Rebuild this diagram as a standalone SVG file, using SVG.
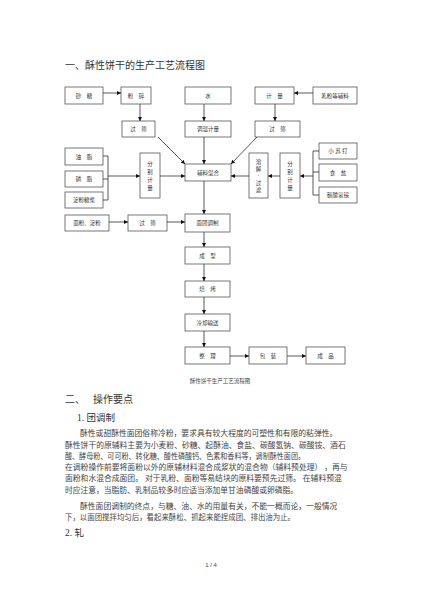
<svg xmlns="http://www.w3.org/2000/svg" width="423" height="600" viewBox="0 0 423 600">
<defs>
<marker id="ah" viewBox="0 0 10 10" refX="10" refY="5" markerWidth="4" markerHeight="4" markerUnits="userSpaceOnUse" orient="auto">
<path d="M0,0 L10,5 L0,10 z" fill="#111"/>
</marker>
<style>
.bx{fill:#fff;stroke:#555;stroke-width:0.8}
.lb{font-family:"Liberation Serif","Noto Sans CJK SC",serif;font-size:5.5px;fill:#333;text-anchor:middle}
.cn{fill:none;stroke:#111;stroke-width:0.7}
.ar{fill:none;stroke:#111;stroke-width:0.7;marker-end:url(#ah)}
.h1{font-family:"Liberation Serif","Noto Sans CJK SC",serif;font-size:10px;fill:#333}
.h2{font-family:"Liberation Serif","Noto Sans CJK SC",serif;font-size:9.5px;fill:#333}
.bd{font-family:"Liberation Serif","Noto Sans CJK SC",serif;font-size:7.8px;fill:#444}
.cap{font-family:"Liberation Serif","Noto Sans CJK SC",serif;font-size:5.5px;fill:#444;text-anchor:middle}
</style>
</defs>
<rect width="423" height="600" fill="#fff"/>
<text class="h1" x="65" y="69">一、酥性饼干的生产工艺流程图</text>

<g id="n_shatang"><rect class="bx" x="65" y="87" width="38" height="17"/><text class="lb" x="84" y="97.5">砂　糖</text></g>
<g id="n_fensui"><rect class="bx" x="121" y="87" width="30" height="17"/><text class="lb" x="136" y="97.5">粉　碎</text></g>
<g id="n_shui"><rect class="bx" x="185" y="87" width="46" height="17"/><text class="lb" x="208" y="97.5">水</text></g>
<g id="n_jiliang"><rect class="bx" x="255" y="87" width="39" height="17"/><text class="lb" x="274.5" y="97.5">计　量</text></g>
<g id="n_rufen"><rect class="bx" x="313" y="87" width="44" height="17"/><text class="lb" x="335" y="97.5">乳粉等辅料</text></g>

<g id="n_guoshai1"><rect class="bx" x="122" y="121" width="33" height="16"/><text class="lb" x="138.5" y="131">过　筛</text></g>
<g id="n_tiaowen"><rect class="bx" x="185" y="121" width="46" height="16"/><text class="lb" x="208" y="131">调温计量</text></g>
<g id="n_guoshai2"><rect class="bx" x="255" y="121" width="45" height="16"/><text class="lb" x="277.5" y="131">过　筛</text></g>

<g id="n_youzhi"><rect class="bx" x="65" y="148" width="38" height="17"/><text class="lb" x="84" y="158.5">油　脂</text></g>
<g id="n_linzhi"><rect class="bx" x="65" y="171" width="38" height="16"/><text class="lb" x="84" y="181">磷　脂</text></g>
<g id="n_tangjiang"><rect class="bx" x="65" y="192" width="38" height="16"/><text class="lb" x="84" y="202">淀粉糖浆</text></g>
<g id="n_fenbie1"><rect class="bx" x="140" y="153" width="20" height="45"/>
<text class="lb" x="150" y="166">分</text><text class="lb" x="150" y="174">别</text><text class="lb" x="150" y="182">计</text><text class="lb" x="150" y="190">量</text></g>
<g id="n_hunhe"><rect class="bx" x="185" y="164" width="46" height="17"/><text class="lb" x="208" y="174.5">辅料混合</text></g>
<g id="n_rongjie"><rect class="bx" x="249" y="153" width="19" height="45"/>
<text class="lb" x="258.5" y="164">溶</text><text class="lb" x="258.5" y="171">解</text><text class="lb" x="258.5" y="178">·</text><text class="lb" x="258.5" y="185">过</text><text class="lb" x="258.5" y="192">滤</text></g>
<g id="n_fenbie2"><rect class="bx" x="280" y="153" width="20" height="45"/>
<text class="lb" x="290" y="166">分</text><text class="lb" x="290" y="174">别</text><text class="lb" x="290" y="182">计</text><text class="lb" x="290" y="190">量</text></g>
<g id="n_xiaosuda"><rect class="bx" x="319" y="143" width="38" height="16"/><text class="lb" x="338" y="153">小 苏 打</text></g>
<g id="n_shiyan"><rect class="bx" x="319" y="164" width="38" height="17"/><text class="lb" x="338" y="174.5">食　盐</text></g>
<g id="n_tansuan"><rect class="bx" x="319" y="187" width="38" height="16"/><text class="lb" x="338" y="197">碳酸氢铵</text></g>

<g id="n_mianfen"><rect class="bx" x="65" y="215" width="44" height="16"/><text class="lb" x="87" y="225">面粉、淀粉</text></g>
<g id="n_guoshai3"><rect class="bx" x="128" y="215" width="39" height="16"/><text class="lb" x="147.5" y="225">过　筛</text></g>
<g id="n_tiaozhi"><rect class="bx" x="185" y="214" width="45" height="18"/><text class="lb" x="207.5" y="225">面团调制</text></g>
<g id="n_chengxing"><rect class="bx" x="185" y="247" width="45" height="17"/><text class="lb" x="207.5" y="257.5">成　型</text></g>
<g id="n_beikao"><rect class="bx" x="185" y="281" width="45" height="16"/><text class="lb" x="207.5" y="291">焙　烤</text></g>
<g id="n_lengque"><rect class="bx" x="185" y="314" width="45" height="17"/><text class="lb" x="207.5" y="324.5">冷却输送</text></g>
<g id="n_zhengli"><rect class="bx" x="185" y="347" width="45" height="17"/><text class="lb" x="207.5" y="357.5">整　理</text></g>
<g id="n_baozhuang"><rect class="bx" x="249" y="347" width="38" height="17"/><text class="lb" x="268" y="357.5">包　装</text></g>
<g id="n_chengpin"><rect class="bx" x="306" y="347" width="39" height="17"/><text class="lb" x="325.5" y="357.5">成　品</text></g>

<g id="connectors">
<path class="ar" d="M103,93 H121"/>
<path class="ar" d="M313,93 H294"/>
<path class="ar" d="M140,104 V121"/>
<path class="ar" d="M204,104 V121"/>
<path class="ar" d="M275,104 V121"/>
<path class="ar" d="M158,137 L185,164"/>
<path class="ar" d="M204,137 V164"/>
<path class="ar" d="M257,137 L231,164"/>
<path class="cn" d="M103,156 H108 V200 H103 M103,179 H108"/>
<path class="ar" d="M108,176 H140"/>
<path class="ar" d="M160,176 H185"/>
<path class="cn" d="M319,151 H313 V195 H319 M313,172 H319"/>
<path class="ar" d="M313,176 H300"/>
<path class="ar" d="M280,176 H268"/>
<path class="ar" d="M249,176 H231"/>
<path class="ar" d="M204,181 V214"/>
<path class="ar" d="M109,222 H128"/>
<path class="ar" d="M167,222 H185"/>
<path class="ar" d="M204,232 V247"/>
<path class="ar" d="M204,264 V281"/>
<path class="ar" d="M204,297 V314"/>
<path class="ar" d="M204,331 V347"/>
<path class="ar" d="M230,356 H249"/>
<path class="ar" d="M287,356 H306"/>
</g>

<text class="cap" x="220" y="383">酥性饼干生产工艺流程图</text>
<text class="h1" x="65" y="403">二、</text>
<text class="h1" x="93" y="403">操作要点</text>
<text class="h2" x="77" y="421">1. 团调制</text>
<text class="bd" x="80" y="436">酥性或甜酥性面团俗称冷粉，要求具有较大程度的可塑性和有限的粘弹性。</text>
<text class="bd" x="65" y="448">酥性饼干的原辅料主要为小麦粉、砂糖、起酥油、食盐、碳酸氢钠、碳酸铵、酒石</text>
<text class="bd" x="65" y="459" textLength="240" lengthAdjust="spacingAndGlyphs">酸、酵母粉、可可粉、转化糖、酸性磷酸钙、色素和香料等，调制酥性面团。</text>
<text class="bd" x="65" y="470">在调粉操作前要将面粉以外的原辅材料混合成浆状的混合物（辅料预处理） ，再与</text>
<text class="bd" x="65" y="481">面粉和水混合成面团。 对于乳粉、面粉等易结块的原料要预先过筛。 在辅料预混</text>
<text class="bd" x="65" y="493" textLength="233" lengthAdjust="spacingAndGlyphs">时应注意，当脂肪、乳制品较多时应适当添加单甘油磷酸或卵磷脂。</text>
<text class="bd" x="80" y="509">酥性面团调制的终点，与糖、油、水的用量有关，不能一概而论，一般情况</text>
<text class="bd" x="65" y="520" textLength="230" lengthAdjust="spacingAndGlyphs">下，以面团搅拌均匀后，看起来酥松、抓起来能捏成团、排出油为止。</text>
<text class="h2" x="65" y="536">2. 轧</text>
<text class="cap" x="211" y="567" style="font-size:6px;font-family:'Liberation Sans',sans-serif">1 / 4</text>
</svg>
